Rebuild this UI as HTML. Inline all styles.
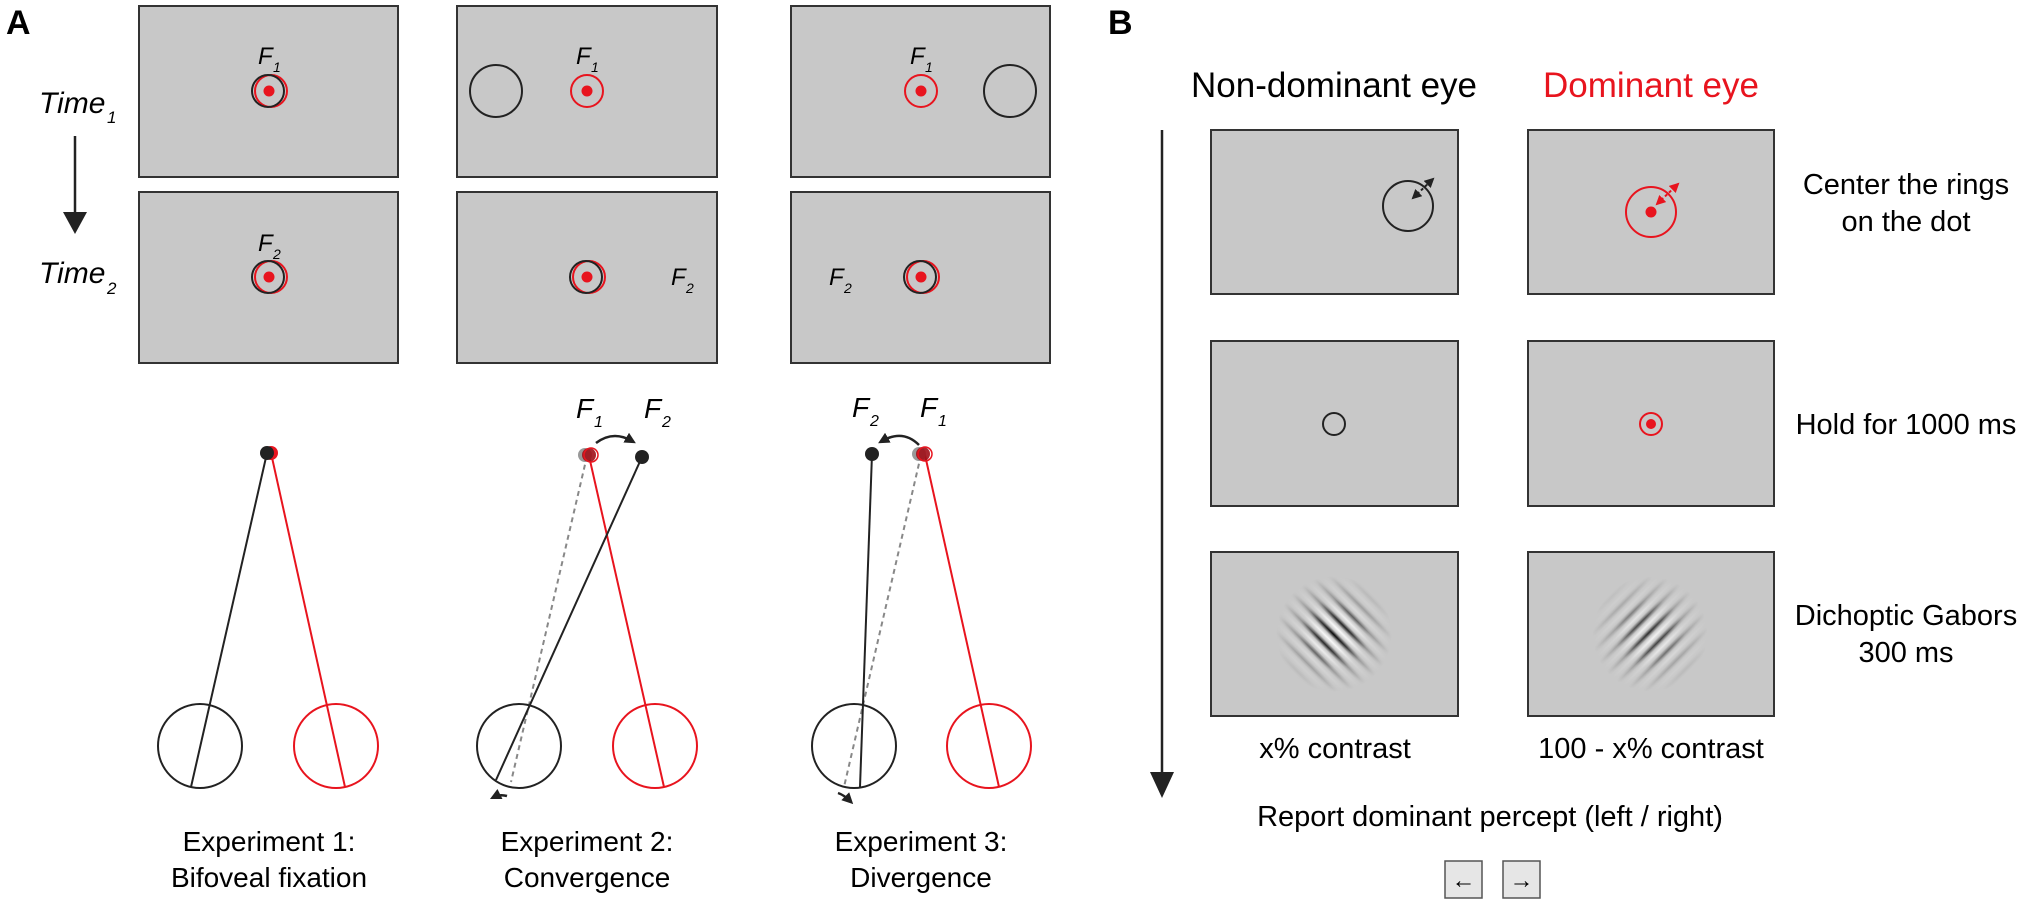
<!DOCTYPE html>
<html><head><meta charset="utf-8"><style>
html,body{margin:0;padding:0;background:#fff}
svg{display:block}
text{font-family:"Liberation Sans",Arial,sans-serif}
</style></head><body>
<svg width="2030" height="905" viewBox="0 0 2030 905" xmlns="http://www.w3.org/2000/svg">
<defs>
  <linearGradient id="stripeA" gradientUnits="userSpaceOnUse" x1="0" y1="0" x2="9.2" y2="-9.2" spreadMethod="repeat">
    <stop offset="0" stop-color="#000"/>
    <stop offset="0.25" stop-color="#c8c8c8"/>
    <stop offset="0.5" stop-color="#fff"/>
    <stop offset="0.75" stop-color="#c8c8c8"/>
    <stop offset="1" stop-color="#000"/>
  </linearGradient>
  <linearGradient id="stripeB" gradientUnits="userSpaceOnUse" x1="0" y1="0" x2="9.2" y2="9.2" spreadMethod="repeat">
    <stop offset="0" stop-color="#000"/>
    <stop offset="0.25" stop-color="#c8c8c8"/>
    <stop offset="0.5" stop-color="#fff"/>
    <stop offset="0.75" stop-color="#c8c8c8"/>
    <stop offset="1" stop-color="#000"/>
  </linearGradient>
  <radialGradient id="gauss">
    <stop offset="0" stop-color="#fff" stop-opacity="1"/>
    <stop offset="0.3" stop-color="#fff" stop-opacity="0.75"/>
    <stop offset="0.6" stop-color="#fff" stop-opacity="0.25"/>
    <stop offset="1" stop-color="#fff" stop-opacity="0"/>
  </radialGradient>
  <mask id="m1" maskUnits="userSpaceOnUse" x="1270" y="570" width="130" height="130">
    <circle cx="1334" cy="634" r="58" fill="url(#gauss)"/>
  </mask>
  <mask id="m2" maskUnits="userSpaceOnUse" x="1586" y="570" width="130" height="130">
    <circle cx="1650" cy="634" r="58" fill="url(#gauss)"/>
  </mask>
  <marker id="ah" viewBox="0 0 10 10" refX="8" refY="5" markerWidth="5" markerHeight="5" orient="auto-start-reverse">
    <path d="M0,0 L10,5 L0,10 z" fill="#222"/>
  </marker>
  <marker id="ahr" viewBox="0 0 10 10" refX="8" refY="5" markerWidth="5" markerHeight="5" orient="auto-start-reverse">
    <path d="M0,0 L10,5 L0,10 z" fill="#e8141e"/>
  </marker>
  <marker id="ahb" viewBox="0 0 10 10" refX="6" refY="5" markerWidth="4.5" markerHeight="4.5" orient="auto">
    <path d="M0,0 L10,5 L0,10 z" fill="#222"/>
  </marker>
</defs>

<text x="6" y="34" font-size="34" font-weight="bold">A</text>
<text x="39" y="113" font-size="30" font-style="italic">Time</text>
<text x="107" y="123" font-size="17" font-style="italic">1</text>
<line x1="75" y1="136" x2="75" y2="214" stroke="#222" stroke-width="2.5"/>
<path d="M63,212 L87,212 L75,234 z" fill="#222"/>
<text x="39" y="283" font-size="30" font-style="italic">Time</text>
<text x="107" y="294" font-size="17" font-style="italic">2</text>

<g fill="#c8c8c8" stroke="#333" stroke-width="2">
  <rect x="139" y="6" width="259" height="171"/>
  <rect x="457" y="6" width="260" height="171"/>
  <rect x="791" y="6" width="259" height="171"/>
  <rect x="139" y="192" width="259" height="171"/>
  <rect x="457" y="192" width="260" height="171"/>
  <rect x="791" y="192" width="259" height="171"/>
</g>
<g font-style="italic">
  <text x="258" y="64" font-size="24">F</text><text x="273" y="72" font-size="14">1</text>
  <text x="576" y="64" font-size="24">F</text><text x="591" y="72" font-size="14">1</text>
  <text x="910" y="64" font-size="24">F</text><text x="925" y="72" font-size="14">1</text>
  <text x="258" y="251" font-size="24">F</text><text x="273" y="259" font-size="14">2</text>
  <text x="671" y="285" font-size="24">F</text><text x="686" y="293" font-size="14">2</text>
  <text x="829" y="285" font-size="24">F</text><text x="844" y="293" font-size="14">2</text>
</g>
<circle cx="271" cy="91" r="16" fill="none" stroke="#e8141e" stroke-width="2"/>
<circle cx="268" cy="91" r="16" fill="none" stroke="#222" stroke-width="2"/>
<circle cx="269" cy="91" r="5.5" fill="#e8141e"/>
<circle cx="496" cy="91" r="26" fill="none" stroke="#222" stroke-width="2"/>
<circle cx="587" cy="91" r="16" fill="none" stroke="#e8141e" stroke-width="2"/>
<circle cx="587" cy="91" r="5.5" fill="#e8141e"/>
<circle cx="921" cy="91" r="16" fill="none" stroke="#e8141e" stroke-width="2"/>
<circle cx="921" cy="91" r="5.5" fill="#e8141e"/>
<circle cx="1010" cy="91" r="26" fill="none" stroke="#222" stroke-width="2"/>
<g>
  <circle cx="271" cy="277" r="16" fill="none" stroke="#e8141e" stroke-width="2"/>
  <circle cx="268" cy="277" r="16" fill="none" stroke="#222" stroke-width="2"/>
  <circle cx="269" cy="277" r="5.5" fill="#e8141e"/>
  <circle cx="589" cy="277" r="16" fill="none" stroke="#e8141e" stroke-width="2"/>
  <circle cx="586" cy="277" r="16" fill="none" stroke="#222" stroke-width="2"/>
  <circle cx="587" cy="277" r="5.5" fill="#e8141e"/>
  <circle cx="923" cy="277" r="16" fill="none" stroke="#e8141e" stroke-width="2"/>
  <circle cx="920" cy="277" r="16" fill="none" stroke="#222" stroke-width="2"/>
  <circle cx="921" cy="277" r="5.5" fill="#e8141e"/>
</g>

<line x1="267" y1="453" x2="191" y2="787" stroke="#222" stroke-width="2"/>
<line x1="271" y1="453" x2="345" y2="787" stroke="#e8141e" stroke-width="2"/>
<circle cx="271" cy="453" r="7" fill="#e8141e"/>
<circle cx="267" cy="453" r="7" fill="#222"/>
<circle cx="200" cy="746" r="42" fill="none" stroke="#222" stroke-width="2"/>
<circle cx="336" cy="746" r="42" fill="none" stroke="#e8141e" stroke-width="2"/>
<text x="269" y="851" font-size="28" text-anchor="middle">Experiment 1:</text>
<text x="269" y="887" font-size="28" text-anchor="middle">Bifoveal fixation</text>

<line x1="587" y1="456" x2="511" y2="782" stroke="#888" stroke-width="2" stroke-dasharray="5,4"/>
<line x1="589" y1="456" x2="664" y2="787" stroke="#e8141e" stroke-width="2"/>
<line x1="642" y1="457" x2="496" y2="780" stroke="#222" stroke-width="2"/>
<circle cx="585" cy="455" r="7" fill="#999"/>
<circle cx="589" cy="455" r="7" fill="#a01018" opacity="0.9"/>
<circle cx="591" cy="455" r="7" fill="none" stroke="#e8141e" stroke-width="1.5"/>
<circle cx="642" cy="457" r="7" fill="#222"/>
<circle cx="519" cy="746" r="42" fill="none" stroke="#222" stroke-width="2"/>
<circle cx="655" cy="746" r="42" fill="none" stroke="#e8141e" stroke-width="2"/>
<path d="M596,443 Q613,430 632,441" fill="none" stroke="#222" stroke-width="2.5" marker-end="url(#ahb)"/>
<path d="M507,796 Q500,794 494,797" fill="none" stroke="#222" stroke-width="2.5" marker-end="url(#ahb)"/>
<text x="576" y="418" font-size="28" font-style="italic">F</text><text x="594" y="427" font-size="16" font-style="italic">1</text>
<text x="644" y="418" font-size="28" font-style="italic">F</text><text x="662" y="427" font-size="16" font-style="italic">2</text>
<text x="587" y="851" font-size="28" text-anchor="middle">Experiment 2:</text>
<text x="587" y="887" font-size="28" text-anchor="middle">Convergence</text>

<line x1="921" y1="455" x2="844" y2="787" stroke="#888" stroke-width="2" stroke-dasharray="5,4"/>
<line x1="925" y1="455" x2="999" y2="787" stroke="#e8141e" stroke-width="2"/>
<line x1="872" y1="454" x2="860" y2="787" stroke="#222" stroke-width="2"/>
<circle cx="919" cy="454" r="7" fill="#999"/>
<circle cx="923" cy="454" r="7" fill="#a01018" opacity="0.9"/>
<circle cx="925" cy="454" r="7" fill="none" stroke="#e8141e" stroke-width="1.5"/>
<circle cx="872" cy="454" r="7" fill="#222"/>
<circle cx="854" cy="746" r="42" fill="none" stroke="#222" stroke-width="2"/>
<circle cx="989" cy="746" r="42" fill="none" stroke="#e8141e" stroke-width="2"/>
<path d="M919,445 Q903,429 882,441" fill="none" stroke="#222" stroke-width="2.5" marker-end="url(#ahb)"/>
<path d="M838,793 Q844,795 850,801" fill="none" stroke="#222" stroke-width="2.5" marker-end="url(#ahb)"/>
<text x="852" y="417" font-size="28" font-style="italic">F</text><text x="870" y="426" font-size="16" font-style="italic">2</text>
<text x="920" y="417" font-size="28" font-style="italic">F</text><text x="938" y="426" font-size="16" font-style="italic">1</text>
<text x="921" y="851" font-size="28" text-anchor="middle">Experiment 3:</text>
<text x="921" y="887" font-size="28" text-anchor="middle">Divergence</text>

<text x="1108" y="34" font-size="34" font-weight="bold">B</text>
<text x="1334" y="97" font-size="35" text-anchor="middle">Non-dominant eye</text>
<text x="1651" y="97" font-size="35" text-anchor="middle" fill="#e8141e">Dominant eye</text>
<line x1="1162" y1="130" x2="1162" y2="775" stroke="#222" stroke-width="2.5"/>
<path d="M1150,772 L1174,772 L1162,798 z" fill="#222"/>

<g fill="#c8c8c8" stroke="#333" stroke-width="2">
  <rect x="1211" y="130" width="247" height="164"/>
  <rect x="1528" y="130" width="246" height="164"/>
  <rect x="1211" y="341" width="247" height="165"/>
  <rect x="1528" y="341" width="246" height="165"/>
  <rect x="1211" y="552" width="247" height="164"/>
  <rect x="1528" y="552" width="246" height="164"/>
</g>
<circle cx="1408" cy="206" r="25" fill="none" stroke="#222" stroke-width="2"/>
<line x1="1413" y1="198" x2="1433" y2="179" stroke="#222" stroke-width="2" stroke-dasharray="3,2.5" marker-start="url(#ah)" marker-end="url(#ah)"/>
<circle cx="1651" cy="212" r="25" fill="none" stroke="#e8141e" stroke-width="2"/>
<circle cx="1651" cy="212" r="5.5" fill="#e8141e"/>
<line x1="1657" y1="204" x2="1678" y2="184" stroke="#e8141e" stroke-width="2" stroke-dasharray="3,2.5" marker-start="url(#ahr)" marker-end="url(#ahr)"/>
<circle cx="1334" cy="424" r="11" fill="none" stroke="#222" stroke-width="2"/>
<circle cx="1651" cy="424" r="11" fill="none" stroke="#e8141e" stroke-width="2"/>
<circle cx="1651" cy="424" r="5" fill="#e8141e"/>
<rect x="1270" y="570" width="128" height="128" fill="url(#stripeA)" mask="url(#m1)"/>
<rect x="1586" y="570" width="128" height="128" fill="url(#stripeB)" mask="url(#m2)" opacity="0.8"/>

<text x="1906" y="194" font-size="29" text-anchor="middle">Center the rings</text>
<text x="1906" y="231" font-size="29" text-anchor="middle">on the dot</text>
<text x="1906" y="434" font-size="29" text-anchor="middle">Hold for 1000 ms</text>
<text x="1906" y="625" font-size="29" text-anchor="middle">Dichoptic Gabors</text>
<text x="1906" y="662" font-size="29" text-anchor="middle">300 ms</text>
<text x="1335" y="758" font-size="29" text-anchor="middle">x% contrast</text>
<text x="1651" y="758" font-size="29" text-anchor="middle">100 - x% contrast</text>
<text x="1490" y="826" font-size="29" text-anchor="middle">Report dominant percept (left / right)</text>
<rect x="1445" y="861" width="37" height="37" fill="#e6e6e6" stroke="#555" stroke-width="1.5"/>
<rect x="1503" y="861" width="37" height="37" fill="#e6e6e6" stroke="#555" stroke-width="1.5"/>
<text x="1463.5" y="888" font-size="24" text-anchor="middle">←</text>
<text x="1521.5" y="888" font-size="24" text-anchor="middle">→</text>
</svg>
</body></html>
